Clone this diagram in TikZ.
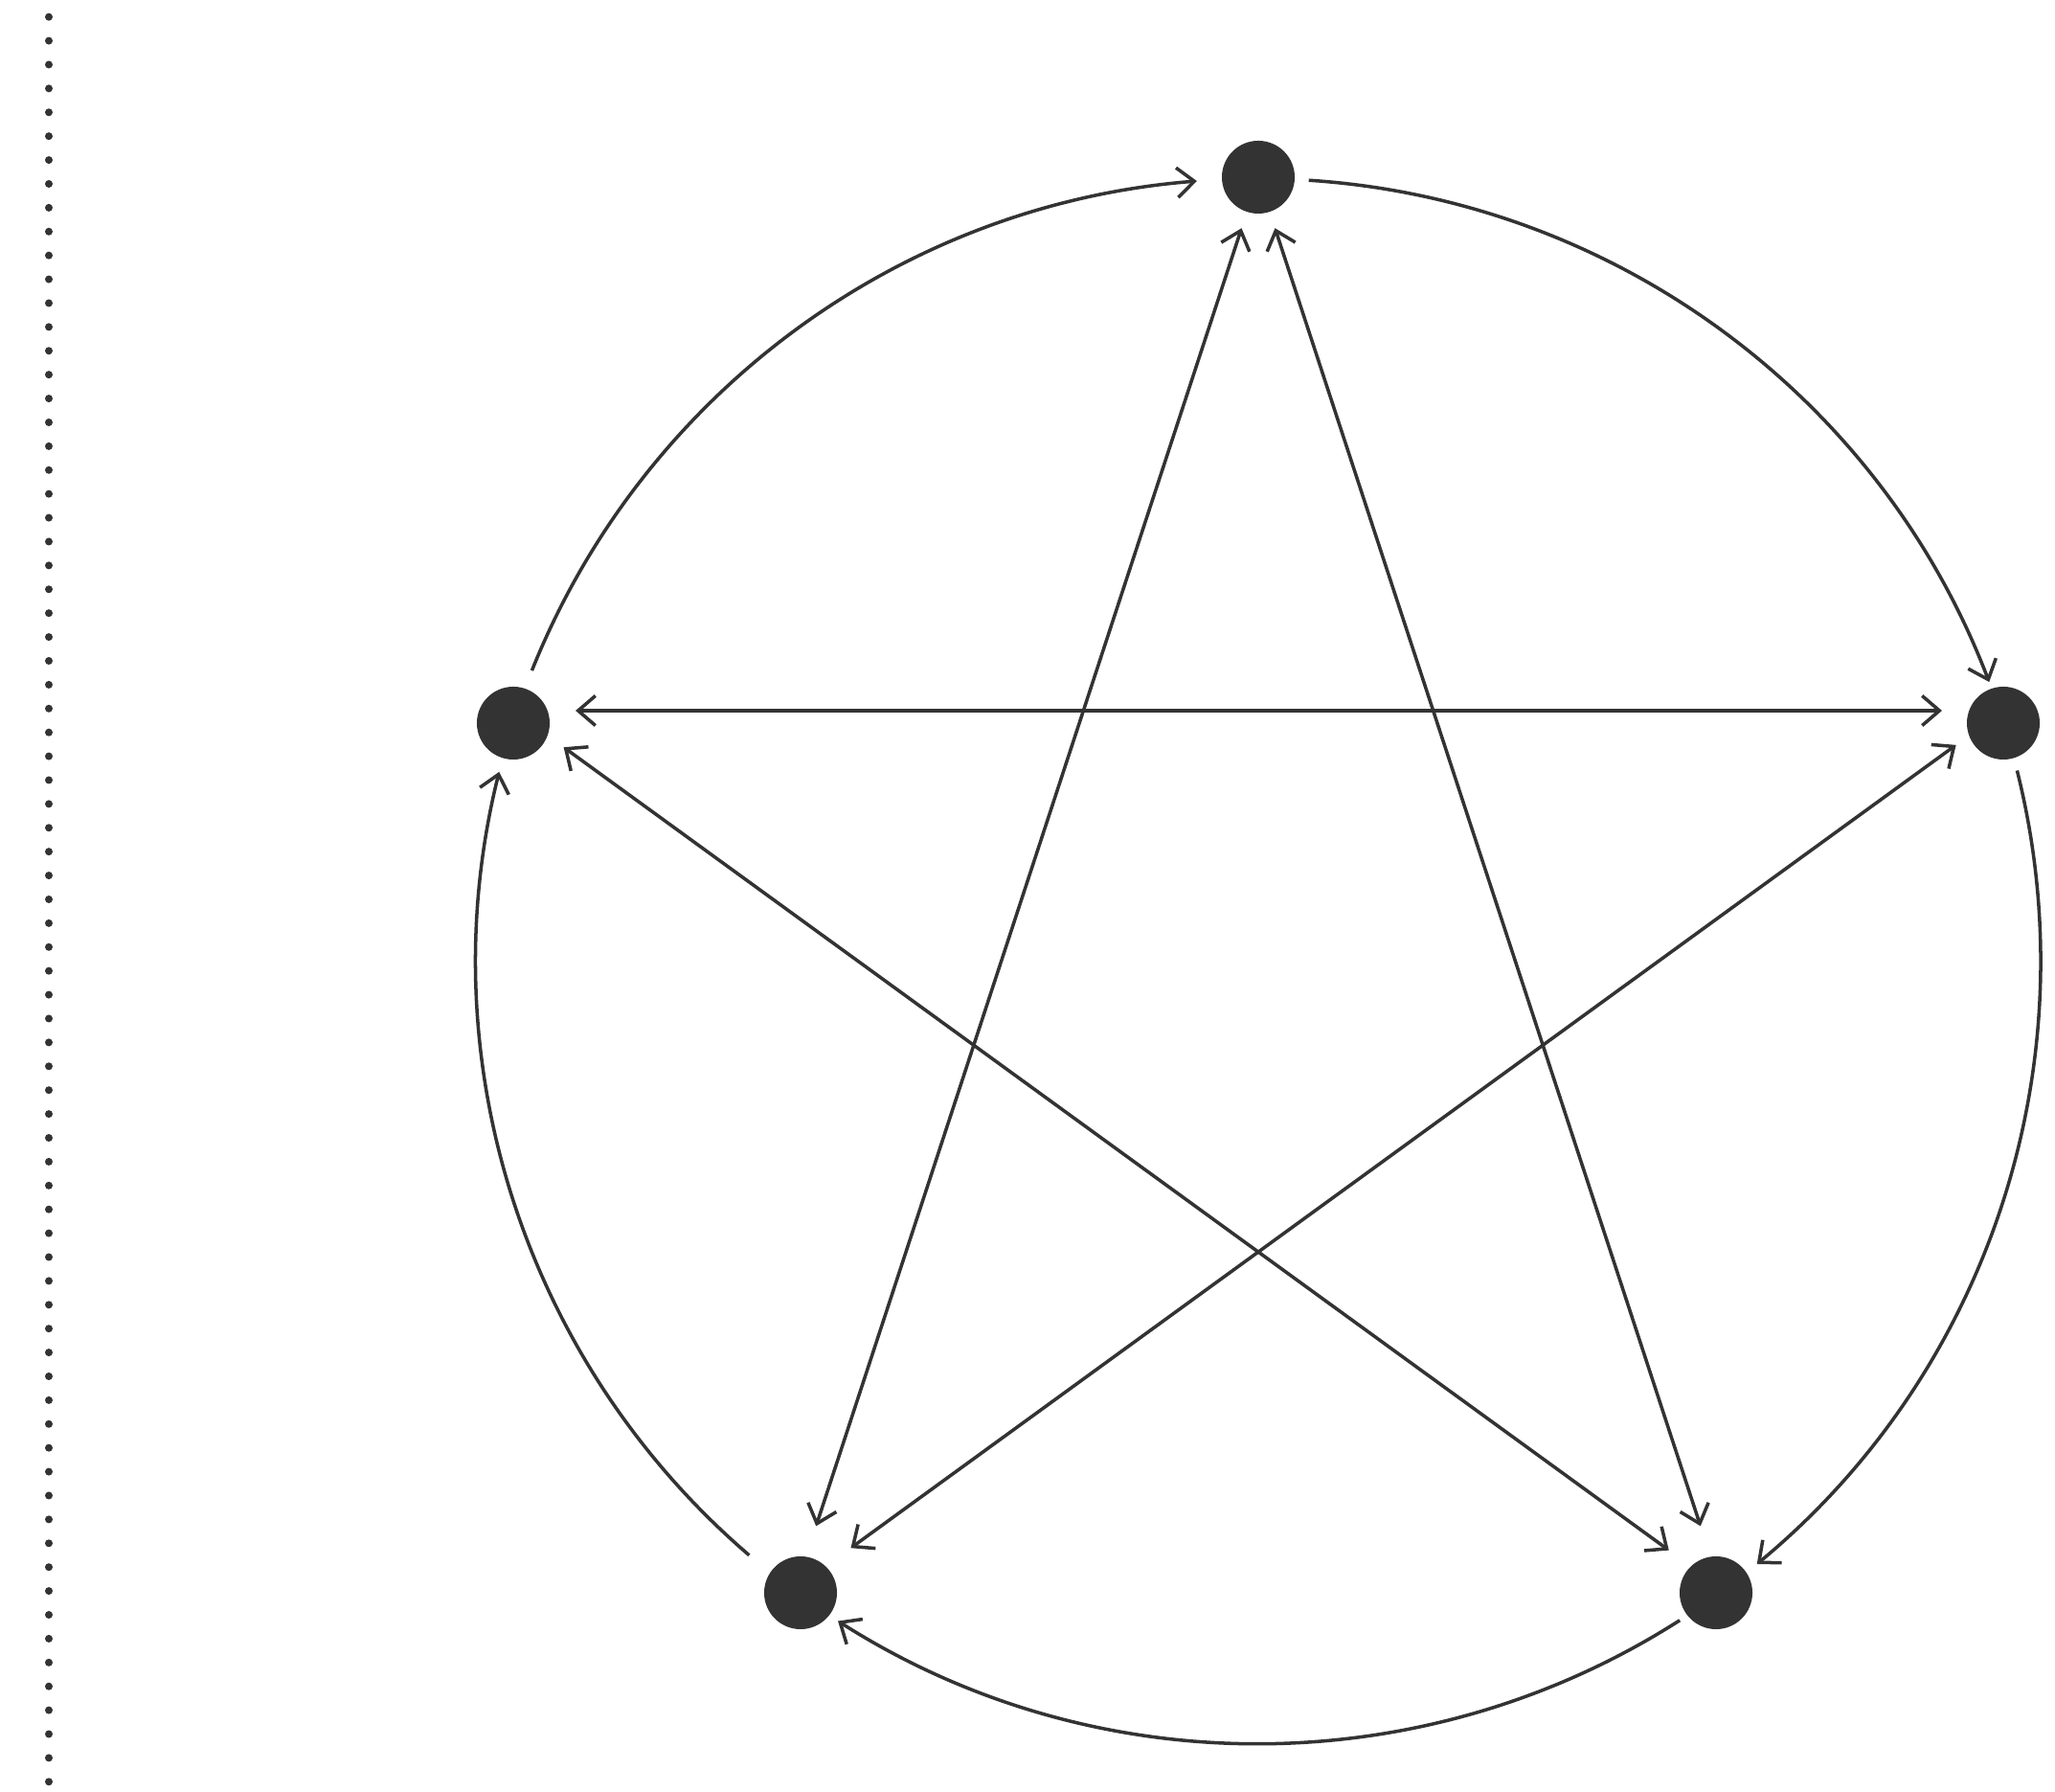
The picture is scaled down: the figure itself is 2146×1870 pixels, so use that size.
\documentclass[tikz,border=0pt]{standalone}
\usetikzlibrary{arrows.meta}
\definecolor{ink}{HTML}{333333}
\begin{document}
\begin{tikzpicture}[x=0.01cm,y=0.01cm,
  dot/.style={circle, fill=ink, draw=none, minimum size=0.76cm, inner sep=0pt, outer sep=0pt},
  tipa/.tip={Straight Barb[length=0.18cm,width=0.31cm]},
  link/.style={draw=ink, line width=1pt, -tipa},
  dlink/.style={draw=ink, line width=1pt, tipa-tipa}]
\useasboundingbox (0,0) rectangle (2146,1870);
% dotted rule at the left
\foreach \i in {0,...,74} \fill[ink] (51,{1852.3-\i*24.9}) circle[radius=4];
% centre of the ring
\coordinate (O) at (1314,866.5);
% nodes
\node[dot] (T) at (1314,1685) {};
\node[dot] (L) at (536,1115) {};
\node[dot] (R) at (2092,1115) {};
\node[dot] (BL) at (836,207) {};
\node[dot] (BR) at (1792,207) {};
% attach points of the star lines
\coordinate (Ta) at (1314,1685);
\coordinate (La) at (536,1128);
\coordinate (Ra) at (2092,1128);
\coordinate (BLa) at (831,212);
\coordinate (BRa) at (1797,212);
% star
\draw[dlink, shorten <=0.56cm, shorten >=0.68cm] (Ta) -- (BLa);
\draw[dlink, shorten <=0.56cm, shorten >=0.68cm] (Ta) -- (BRa);
\draw[dlink, shorten <=0.65cm, shorten >=0.64cm] (La) -- (Ra);
\draw[dlink, shorten <=0.65cm, shorten >=0.67cm] (La) -- (BRa);
\draw[dlink, shorten <=0.61cm, shorten >=0.71cm] (Ra) -- (BLa);
% rim (arcs of the ring through the nodes, clockwise)
\draw[link] ([shift={(158.2:817)}]O) arc[start angle=158.2, end angle=94.5, radius=817];  % L -> T
\draw[link] ([shift={(86.3:817)}]O) arc[start angle=86.3, end angle=20.9, radius=817];    % T -> R
\draw[link] ([shift={(14.1:817)}]O) arc[start angle=14.1, end angle=-50.4, radius=817];   % R -> BR
\draw[link] ([shift={(-57.4:817)}]O) arc[start angle=-57.4, end angle=-122.5, radius=817];% BR -> BL
\draw[link] ([shift={(229.4:817)}]O) arc[start angle=229.4, end angle=166, radius=817];   % BL -> L
\end{tikzpicture}
\end{document}
